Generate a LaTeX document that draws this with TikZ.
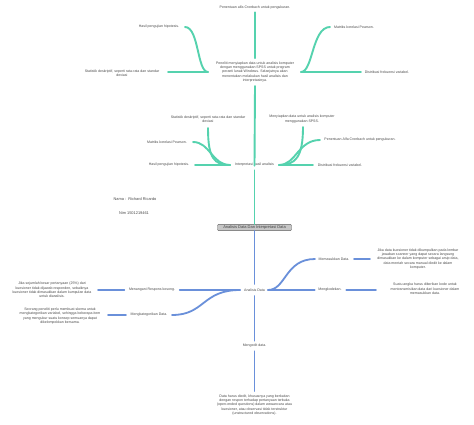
\documentclass[tikz,border=0pt]{standalone}
\usepackage{fontspec}
\setmainfont{Liberation Sans}
\definecolor{teal1}{HTML}{55D2AE}
\definecolor{blue1}{HTML}{6A90DA}
\definecolor{txt}{HTML}{4A4A4A}
\begin{document}
\begin{tikzpicture}[x=1pt,y=-1pt,
  lbl/.style={text=txt,font=\fontsize{3.55}{4.3}\selectfont,align=center,inner sep=0.5pt},
  tl/.style={draw=teal1,line width=1.9pt,line cap=round},
  bl/.style={draw=blue1,line width=1.8pt,line cap=round}]
\useasboundingbox[fill=white] (0,0) rectangle (474,424);
% ---------- top cluster ----------
\node[lbl] (t0) at (255,8) {Penentuan alfa Cronbach untuk pengukuran.};
\node[lbl] (t1) at (255,72) {Peneliti menyiapkan data untuk analisis komputer\\dengan menggunakan SPSS untuk program\\peranti lunak Windows. Selanjutnya akan\\menentukan melakukan hasil analisis dan\\interpretasinya.};
\node[lbl] (t2) at (159,27) {Hasil pengujian hipotesis.};
\node[lbl] (t3) at (122,73) {Statistik deskriptif, seperti rata-rata dan standar\\deviasi};
\node[lbl] (t4) at (354,27) {Matriks korelasi Pearson.};
\node[lbl] (t5) at (387,72) {Distribusi frekuensi variabel.};
\coordinate (t1l) at (208,72);
\coordinate (t1r) at (301,72);
\coordinate (t3e) at (168,72);
\coordinate (t2e) at (185,27);
\coordinate (t4w) at (330,27);
\coordinate (t5w) at (361,72);
\draw[tl] ([yshift=-2pt]t0.south) -- ([yshift=3pt]t1.north);
\draw[tl] (t3e) -- (t1l);
\draw[tl] (t2e) .. controls (199,27) and (197,72) .. (t1l);
\draw[tl] (t1r) -- (t5w);
\draw[tl] (t1r) .. controls (313,72) and (312,27) .. (t4w);
% ---------- middle cluster ----------
\node[lbl] (m0) at (254.5,165) {Interpretasi hasil analisis};
\node[lbl] (m1) at (169,165) {Hasil pengujian hipotesis.};
\node[lbl] (m2) at (167,142) {Matriks korelasi Pearson.};
\node[lbl] (m3) at (208,119) {Statistik deskriptif, seperti rata-rata dan standar\\deviasi};
\node[lbl] (m4) at (340,165) {Distribusi frekuensi variabel.};
\node[lbl] (m5) at (360,140) {Penentuan Alfa Cronbach untuk pengukuran.};
\node[lbl] (m6) at (302,119) {Menyiapkan data untuk analisis komputer\\menggunakan SPSS.};
\coordinate (m0l) at (230,165);
\coordinate (m0r) at (279,165);
\coordinate (m1e) at (195,165);
\coordinate (m2e) at (193,142);
\coordinate (m3s) at (208,128);
\coordinate (m4w) at (313,165);
\coordinate (m5w) at (320,140);
\coordinate (m6s) at (303,127);
\draw[tl] ([yshift=-3pt]t1.south) -- ([yshift=-3pt]m0.north);
\draw[tl] (m1e) -- (m0l);
\draw[tl] (m2e) .. controls (210,142) and (212,165) .. (m0l);
\draw[tl] (m3s) .. controls (208,158) and (214,165) .. (m0l);
\draw[tl] (m0r) -- (m4w);
\draw[tl] (m0r) .. controls (296,165) and (298,140) .. (m5w);
\draw[tl] (m6s) .. controls (303,158) and (295,165) .. (m0r);
% ---------- name ----------
\node[lbl,font=\fontsize{3.9}{4.7}\selectfont] (nm) at (135,199) {Nama :\ \ Richard Ricardo};
\node[lbl,font=\fontsize{3.9}{4.7}\selectfont] (nim) at (134,213) {Nim 1501219461};
% ---------- root ----------
\node[draw=gray!75!black,fill=gray!45,rounded corners=1pt,text=black!75,font=\fontsize{4}{4.8}\selectfont,inner xsep=2pt,inner ysep=1.3pt,minimum width=74pt] (root) at (254.5,227.5) {Analisis Data Dan Interpretasi Data};
\draw[tl] ([yshift=-3pt]m0.south) -- (root.north);
% ---------- lower cluster ----------
\node[lbl] (a) at (254.5,290) {Analisis Data};
\node[lbl] (e) at (254.5,346) {Mengedit data.};
\node[lbl] (ep) at (254.5,405) {Data harus diedit, khususnya yang berkaitan\\dengan respon terhadap pertanyaan terbuka\\(open-ended questions) dalam wawancara atau\\kuesioner, atau observasi tidak terstruktur\\(unstructured observations).};
\node[lbl] (k) at (330,290) {Mengkodekan.};
\node[lbl] (kp) at (425,289) {Suatu angka harus diberikan kode untuk\\mentransmisikan data dari kuesioner dalam\\memasukkan data.};
\node[lbl] (m) at (334,259) {Memasukkan Data.};
\node[lbl] (mp) at (418,259) {Jika data kuesioner tidak dikumpulkan pada lembar\\jawaban scanner yang dapat secara langsung\\dimasukkan ke dalam komputer sebagai arsip data,\\data mentah secara manual diedit ke dalam\\komputer.};
\node[lbl] (r) at (152,290) {Menangani Respons kosong.};
\node[lbl] (rp) at (52,290) {Jika sejumlah besar pertanyaan (25\%) dari\\kuesioner tidak dijawab responden, sebaiknya\\kuesioner tidak dimasukkan dalam kumpulan data\\untuk dianalisis.};
\node[lbl] (g) at (149,315) {Mengkategorikan Data.};
\node[lbl] (gp) at (60,316) {Seorang peneliti perlu membuat skema untuk\\mengkategorikan variabel, sehingga beberapa item\\yang mengukur suatu konsep semuanya dapat\\dikelompokkan bersama.};
\coordinate (ar) at (268,290);
\coordinate (al) at (240,290);
\draw[bl] (root.south) -- ([yshift=4pt]a.north);
\draw[bl] ([yshift=-4pt]a.south) -- ([yshift=3pt]e.north);
\draw[bl] ([yshift=-3pt]e.south) -- ([yshift=3pt]ep.north);
\draw[bl] (ar) -- ([xshift=-3pt]k.west);
\draw[bl] ([xshift=4pt]k.east) -- (376,290);
\draw[bl] (ar) .. controls (286,290) and (285,259) .. ([xshift=-3pt]m.west);
\draw[bl] ([xshift=4pt]m.east) -- (370,259);
\draw[bl] (al) -- ([xshift=4pt]r.east);
\draw[bl] ([xshift=-4pt]r.west) -- (98,290);
\draw[bl] ([xshift=4pt]g.east) .. controls (205,315) and (202,290) .. (al);
\draw[bl] ([xshift=-4pt]g.west) -- (108,315);
\end{tikzpicture}
\end{document}
